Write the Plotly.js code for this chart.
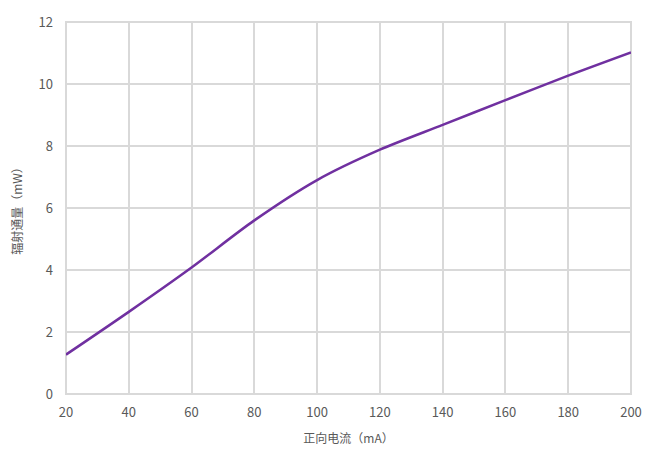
<!DOCTYPE html>
<html><head><meta charset="utf-8">
<script src="https://cdn.plot.ly/plotly-3.0.1.min.js"></script>
<style>html,body{margin:0;padding:0;background:#fff}#c{width:650px;height:459px}</style>
</head><body><div id="c"></div>
<script>
const current = [20, 40, 60, 80, 100, 120, 140, 160, 180, 200];
const flux = [1.27, 2.65, 4.08, 5.6, 6.9, 7.88, 8.68, 9.48, 10.27, 11.02];
const xTicks = [20, 40, 60, 80, 100, 120, 140, 160, 180, 200];
const yTicks = [0, 2, 4, 6, 8, 10, 12];
const font = "'Noto Sans CJK SC', 'Noto Sans', sans-serif";
Plotly.newPlot('c', [{
  x: current, y: flux, type: 'scatter', mode: 'lines',
  line: {color: '#7030a0', width: 2.5, shape: 'spline', smoothing: 0.8}
}], {
  width: 650, height: 459,
  margin: {l: 66, r: 19, t: 22, b: 65},
  paper_bgcolor: '#fff', plot_bgcolor: '#fff',
  showlegend: false,
  font: {family: font, color: '#595959', size: 13},
  xaxis: {range: [20, 200], tickvals: xTicks, showgrid: true, gridcolor: '#d9d9d9', gridwidth: 2,
    zeroline: false, showline: false, ticks: '', ticklen: 0, ticklabelstandoff: 9,
    tickfont: {size: 13, color: '#595959'},
    title: {text: '正向电流（mA）', font: {size: 12, color: '#595959'}, standoff: 14}},
  yaxis: {range: [0, 12], tickvals: yTicks, showgrid: true, gridcolor: '#d9d9d9', gridwidth: 2,
    zeroline: false, showline: false, ticks: '', ticklen: 0, ticklabelstandoff: 12,
    tickfont: {size: 13, color: '#595959'},
    title: {text: '辐射通量（mW）', font: {size: 12, color: '#595959'}, standoff: 13}},
  shapes: [{type: 'rect', xref: 'paper', yref: 'paper', x0: 0, x1: 1, y0: 0, y1: 1,
    line: {color: '#d9d9d9', width: 2}, layer: 'below'}]
}, {displayModeBar: false, staticPlot: true});
</script></body></html>
